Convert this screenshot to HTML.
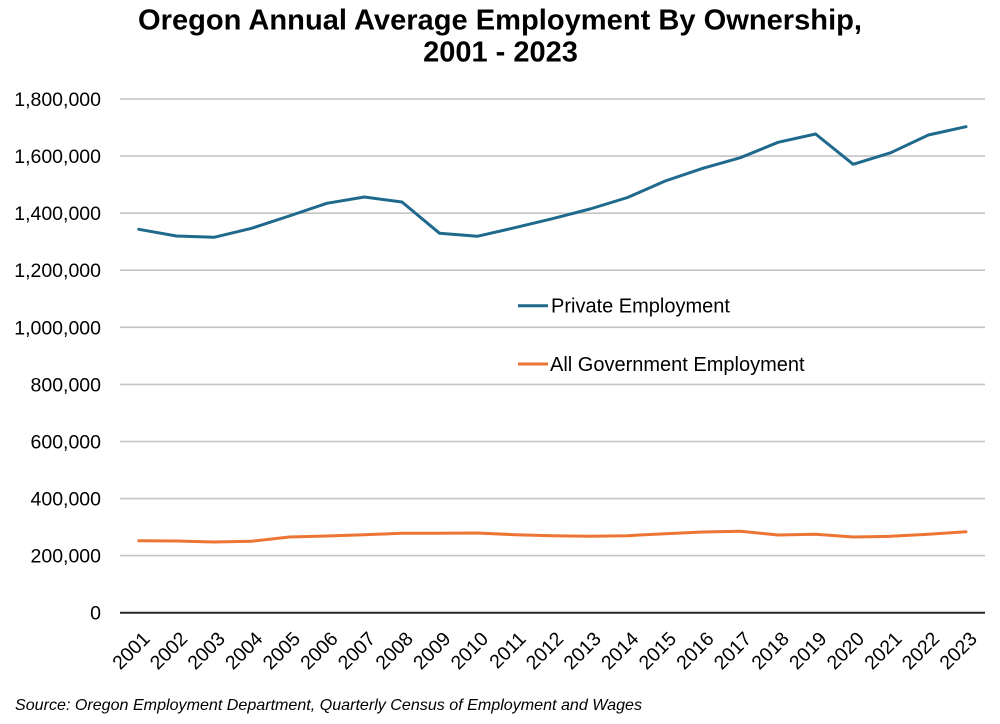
<!DOCTYPE html>
<html>
<head>
<meta charset="utf-8">
<style>
  html,body{margin:0;padding:0;background:#fff;}
  svg{display:block;}
  text{font-family:"Liberation Sans",Arial,sans-serif;fill:#000;}
</style>
</head>
<body>
<svg width="1000" height="724" viewBox="0 0 1000 724" xmlns="http://www.w3.org/2000/svg">
  <rect x="0" y="0" width="1000" height="724" fill="#fff"/>
  <!-- Title -->
  <text x="500" y="29.5" font-size="29" font-weight="bold" text-anchor="middle" textLength="724" lengthAdjust="spacingAndGlyphs">Oregon Annual Average Employment By Ownership,</text>
  <text x="500.5" y="61.5" font-size="29" font-weight="bold" text-anchor="middle">2001 - 2023</text>

  <!-- Gridlines -->
  <g stroke="#c4c4c4" stroke-width="1.6">
    <line x1="120" y1="99" x2="985" y2="99"/>
    <line x1="120" y1="156.1" x2="985" y2="156.1"/>
    <line x1="120" y1="213.2" x2="985" y2="213.2"/>
    <line x1="120" y1="270.2" x2="985" y2="270.2"/>
    <line x1="120" y1="327.3" x2="985" y2="327.3"/>
    <line x1="120" y1="384.4" x2="985" y2="384.4"/>
    <line x1="120" y1="441.5" x2="985" y2="441.5"/>
    <line x1="120" y1="498.6" x2="985" y2="498.6"/>
    <line x1="120" y1="555.6" x2="985" y2="555.6"/>
  </g>
  <line x1="120" y1="612.7" x2="985" y2="612.7" stroke="#262626" stroke-width="2"/>

  <!-- Y labels -->
  <g font-size="19.5" text-anchor="end">
    <text x="101" y="106">1,800,000</text>
    <text x="101" y="163.1">1,600,000</text>
    <text x="101" y="220.2">1,400,000</text>
    <text x="101" y="277.2">1,200,000</text>
    <text x="101" y="334.3">1,000,000</text>
    <text x="101" y="391.4">800,000</text>
    <text x="101" y="448.5">600,000</text>
    <text x="101" y="505.6">400,000</text>
    <text x="101" y="562.6">200,000</text>
    <text x="101" y="619.7">0</text>
  </g>

  <!-- X labels -->
  <g font-size="19.5" text-anchor="end">
    <text transform="translate(151,640) rotate(-45)">2001</text>
    <text transform="translate(188.6,640) rotate(-45)">2002</text>
    <text transform="translate(226.2,640) rotate(-45)">2003</text>
    <text transform="translate(263.8,640) rotate(-45)">2004</text>
    <text transform="translate(301.4,640) rotate(-45)">2005</text>
    <text transform="translate(339,640) rotate(-45)">2006</text>
    <text transform="translate(376.6,640) rotate(-45)">2007</text>
    <text transform="translate(414.2,640) rotate(-45)">2008</text>
    <text transform="translate(451.8,640) rotate(-45)">2009</text>
    <text transform="translate(489.4,640) rotate(-45)">2010</text>
    <text transform="translate(527,640) rotate(-45)">2011</text>
    <text transform="translate(564.6,640) rotate(-45)">2012</text>
    <text transform="translate(602.2,640) rotate(-45)">2013</text>
    <text transform="translate(639.8,640) rotate(-45)">2014</text>
    <text transform="translate(677.4,640) rotate(-45)">2015</text>
    <text transform="translate(715,640) rotate(-45)">2016</text>
    <text transform="translate(752.6,640) rotate(-45)">2017</text>
    <text transform="translate(790.2,640) rotate(-45)">2018</text>
    <text transform="translate(827.8,640) rotate(-45)">2019</text>
    <text transform="translate(865.4,640) rotate(-45)">2020</text>
    <text transform="translate(903,640) rotate(-45)">2021</text>
    <text transform="translate(940.6,640) rotate(-45)">2022</text>
    <text transform="translate(978.2,640) rotate(-45)">2023</text>
  </g>

  <!-- Series -->
  <polyline fill="none" stroke="#1f6a8c" stroke-width="3" stroke-linejoin="round" stroke-linecap="round"
    points="138.8,229.3 176.4,236 214,237.3 251.6,228.3 289.2,216 326.8,203.3 364.4,197 402,202 439.6,233.3 477.2,236.3 514.8,227.7 552.4,218.7 590,209 627.6,197.5 665.2,181 702.8,168.3 740.4,157.7 778,142.3 815.6,134 853.2,164.3 890.8,152.7 928.4,135 966,126.7"/>
  <polyline fill="none" stroke="#ec7534" stroke-width="3" stroke-linejoin="round" stroke-linecap="round"
    points="138.8,540.7 176.4,541 214,542 251.6,541.3 289.2,537 326.8,536 364.4,534.7 402,533.3 439.6,533.3 477.2,533 514.8,534.7 552.4,535.7 590,536.3 627.6,535.7 665.2,533.7 702.8,532 740.4,531.3 778,535 815.6,534.3 853.2,537 890.8,536.3 928.4,534.3 966,531.7"/>

  <!-- Legend -->
  <line x1="518" y1="305.7" x2="548" y2="305.7" stroke="#1f6a8c" stroke-width="3"/>
  <text x="551" y="312.3" font-size="20">Private Employment</text>
  <line x1="518" y1="364" x2="548" y2="364" stroke="#ec7534" stroke-width="3"/>
  <text x="550" y="371" font-size="20">All Government Employment</text>

  <!-- Source -->
  <text x="15" y="710" font-size="16" font-style="italic" textLength="627" lengthAdjust="spacingAndGlyphs" fill="#222">Source: Oregon Employment Department, Quarterly Census of Employment and Wages</text>
</svg>
</body>
</html>
